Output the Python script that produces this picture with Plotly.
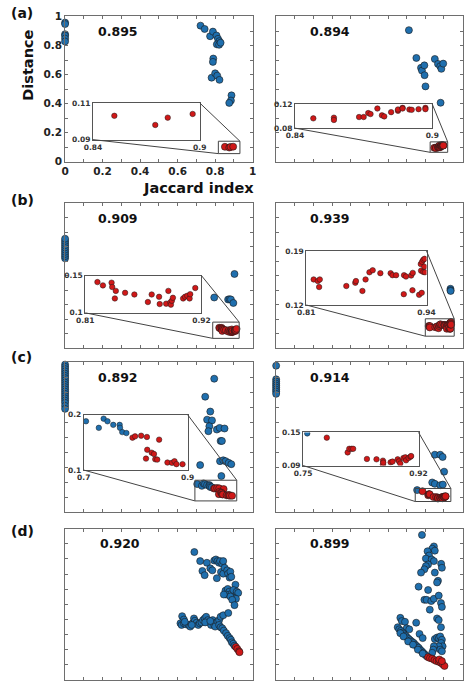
import plotly.graph_objects as go

W, H = 474, 688
BLUE = "#1f6fae"
RED = "#d01818"
EDGE = "#1a1a1a"
FRAME = "#6e6e6e"
FONT = "DejaVu Sans"

# ---------------- data (Jaccard index, Distance) ----------------
# (a) left
a1_blue_x = [0, 0, 0, 0, 0, 0, 0.722, 0.744, 0.773, 0.788, 0.807, 0.815, 0.822, 0.809, 0.821, 0.829,
             0.790, 0.788, 0.781, 0.800, 0.811, 0.823, 0.887, 0.884, 0.875]
a1_blue_y = [0.96, 0.95, 0.88, 0.87, 0.85, 0.83, 0.939, 0.916, 0.866, 0.898, 0.871, 0.848, 0.832, 0.810,
             0.807, 0.821, 0.712, 0.689, 0.580, 0.610, 0.594, 0.565, 0.458, 0.422, 0.406]
a1_zoom_blue_x = []
a1_zoom_blue_y = []
a1_red_x = [0.852, 0.875, 0.882, 0.896]
a1_red_y = [0.103, 0.098, 0.102, 0.104]

# (a) right
a2_blue_x = [0.712, 0.752, 0.851, 0.777, 0.782, 0.795, 0.868, 0.880, 0.886, 0.896, 0.796, 0.801, 0.882]
a2_blue_y = [0.908, 0.716, 0.709, 0.648, 0.629, 0.665, 0.675, 0.659, 0.641, 0.677, 0.597, 0.520, 0.407]
a2_zoom_blue_x = []
a2_zoom_blue_y = []
a2_red_x = [0.848, 0.857, 0.857, 0.868, 0.870, 0.872, 0.873, 0.876, 0.878, 0.879, 0.882, 0.885, 0.885,
            0.887, 0.887, 0.890, 0.891, 0.894, 0.897, 0.897]
a2_red_y = [0.0964, 0.0975, 0.0937, 0.0986, 0.0986, 0.1052, 0.1036, 0.1129, 0.1014, 0.0997, 0.1068,
            0.1090, 0.1112, 0.1140, 0.1129, 0.1112, 0.1107, 0.1118, 0.1140, 0.1118]

# (b) left
b1_blue_x = [0, 0, 0, 0, 0, 0, 0, 0, 0, 0, 0.903, 0.795, 0.869, 0.877, 0.884, 0.897]
b1_blue_y = [0.62, 0.635, 0.65, 0.665, 0.68, 0.695, 0.71, 0.725, 0.74, 0.755,
             0.512, 0.350, 0.336, 0.338, 0.336, 0.312]
b1_zoom_blue_x = []
b1_zoom_blue_y = []
b1_red_x = [0.8215, 0.8267, 0.8349, 0.8355, 0.8389, 0.8380, 0.8477, 0.8565, 0.8693, 0.8729, 0.8799,
            0.8805, 0.8866, 0.8887, 0.8905, 0.8911, 0.8920, 0.8930, 0.9027, 0.9045, 0.9066, 0.9088,
            0.9094, 0.9142]
b1_red_y = [0.1412, 0.1368, 0.1404, 0.1346, 0.1294, 0.1193, 0.1268, 0.1246, 0.1145, 0.1246, 0.1215,
            0.1118, 0.1123, 0.1294, 0.1140, 0.1110, 0.1162, 0.1202, 0.1193, 0.1215, 0.1228, 0.1193,
            0.1250, 0.1333]

# (b) right
b2_blue_x = [0.935, 0.935, 0.936]
b2_blue_y = [0.410, 0.400, 0.395]
b2_zoom_blue_x = []
b2_zoom_blue_y = []
b2_red_x = [0.8180, 0.8225, 0.8246, 0.8239, 0.8533, 0.8630, 0.8637, 0.8707, 0.8741, 0.8783, 0.8818,
            0.8901, 0.9012, 0.9032, 0.9071, 0.9157, 0.9178, 0.9154, 0.9234, 0.9251, 0.9248, 0.9320,
            0.9348, 0.9341, 0.9365, 0.9338, 0.9352, 0.9365, 0.9379, 0.9376, 0.9383]
b2_red_y = [0.1531, 0.1510, 0.1531, 0.1433, 0.1446, 0.1488, 0.1510, 0.1382, 0.1531, 0.1624, 0.1650,
            0.1612, 0.1612, 0.1586, 0.1586, 0.1586, 0.1569, 0.1340, 0.1582, 0.1616, 0.1391, 0.1332,
            0.1357, 0.1645, 0.1628, 0.1730, 0.1760, 0.1785, 0.1798, 0.1696, 0.1624]

# (c) left
c1_blue_x = [0] * 20 + [0.795, 0.747, 0.774, 0.757, 0.783, 0.769, 0.764, 0.809, 0.824, 0.850, 0.829,
                        0.836, 0.720, 0.826, 0.843, 0.856, 0.872, 0.886, 0.833]
c1_blue_y = [0.985, 0.97, 0.955, 0.94, 0.925, 0.91, 0.895, 0.88, 0.865, 0.85, 0.835, 0.82, 0.805,
             0.79, 0.775, 0.76, 0.745, 0.73, 0.71, 0.69,
             0.891, 0.771, 0.672, 0.618, 0.613, 0.574, 0.541, 0.552, 0.563, 0.559, 0.476, 0.476,
             0.315, 0.341, 0.347, 0.341, 0.330, 0.321, 0.242]
c1_zoom_blue_x = [0.7043, 0.7290, 0.7383, 0.7457, 0.7568, 0.7691, 0.7698, 0.7741, 0.7821]
c1_zoom_blue_y = [0.1882, 0.1763, 0.1929, 0.1882, 0.1817, 0.1817, 0.1763, 0.1686, 0.1669]
c1_red_x = [0.7938, 0.7988, 0.8105, 0.8216, 0.8451, 0.8222, 0.8198, 0.8309, 0.8352, 0.8377, 0.8414,
            0.8611, 0.8698, 0.8747, 0.8784, 0.8901]
c1_red_y = [0.1586, 0.1609, 0.1621, 0.1598, 0.1550, 0.1367, 0.1207, 0.1314, 0.1290, 0.1195, 0.1189,
            0.1136, 0.1130, 0.1160, 0.1107, 0.1107]

# (c) right
c2_blue_x = [0] * 9 + [0.851, 0.880, 0.893, 0.901, 0.837, 0.851, 0.880, 0.894]
c2_blue_y = [0.978, 0.887, 0.872, 0.858, 0.845, 0.832, 0.818, 0.805, 0.790,
             0.384, 0.384, 0.369, 0.271, 0.199, 0.190, 0.181, 0.185]
c2_zoom_blue_x = [0.7561]
c2_zoom_blue_y = [0.1482]
c2_red_x = [0.7849, 0.8156, 0.8180, 0.8213, 0.8237, 0.8440, 0.8581, 0.8676, 0.8676, 0.8681, 0.8789,
            0.8817, 0.8893, 0.8912, 0.8931, 0.8978, 0.9006, 0.9016, 0.9054, 0.9082, 0.9091]
c2_red_y = [0.1405, 0.1138, 0.1203, 0.1203, 0.1203, 0.1019, 0.1013, 0.0989, 0.0918, 0.0953, 0.0959,
            0.0971, 0.1013, 0.0977, 0.0936, 0.1037, 0.1049, 0.0995, 0.1037, 0.1061, 0.1072]

# (d) left
d1_blue_x = [0.689, 0.720, 0.756, 0.732, 0.744, 0.774, 0.785, 0.795, 0.804, 0.812, 0.821, 0.826, 0.838,
             0.843, 0.809, 0.831, 0.843, 0.850, 0.864, 0.869, 0.881, 0.877, 0.886, 0.908, 0.855, 0.867,
             0.875, 0.858, 0.886, 0.897, 0.915, 0.923, 0.901, 0.911, 0.881, 0.891, 0.903, 0.846,
             0.624, 0.633, 0.615, 0.621, 0.633, 0.645, 0.658, 0.667, 0.679, 0.687, 0.692, 0.701, 0.710,
             0.718, 0.727, 0.735, 0.744, 0.752, 0.761, 0.769, 0.778, 0.787, 0.795, 0.804, 0.812, 0.821,
             0.829, 0.843, 0.870, 0.638, 0.675, 0.747, 0.774, 0.800,
             0.821, 0.829, 0.838, 0.846, 0.858, 0.867, 0.877, 0.884, 0.889, 0.897, 0.903]
d1_blue_y = [0.846, 0.786, 0.775, 0.721, 0.693, 0.738, 0.725, 0.790, 0.797, 0.786, 0.775, 0.786, 0.768,
             0.786, 0.673, 0.714, 0.703, 0.742, 0.725, 0.703, 0.716, 0.677, 0.682, 0.630, 0.591, 0.602,
             0.584, 0.565, 0.569, 0.595, 0.584, 0.576, 0.543, 0.537, 0.552, 0.530, 0.495, 0.565,
             0.422, 0.400, 0.375, 0.364, 0.375, 0.368, 0.364, 0.353, 0.375, 0.407, 0.392, 0.379, 0.364,
             0.375, 0.381, 0.396, 0.407, 0.418, 0.396, 0.381, 0.364, 0.396, 0.364, 0.379, 0.385, 0.396,
             0.418, 0.428, 0.443, 0.385, 0.364, 0.381, 0.390, 0.353,
             0.364, 0.349, 0.342, 0.327, 0.310, 0.292, 0.277, 0.266, 0.249, 0.240, 0.227]
d1_zoom_blue_x = []
d1_zoom_blue_y = []
d1_red_x = [0.910, 0.918, 0.927, 0.930]
d1_red_y = [0.219, 0.206, 0.190, 0.184]

# (d) right
d2_blue_x = [0.782, 0.846, 0.837, 0.851, 0.812, 0.820, 0.803, 0.834, 0.846, 0.815, 0.803, 0.795, 0.777,
             0.851, 0.885, 0.889, 0.868, 0.863, 0.764, 0.815, 0.795, 0.807, 0.832, 0.846, 0.824, 0.872,
             0.884, 0.889, 0.863, 0.872, 0.884, 0.751, 0.666, 0.674, 0.691, 0.700, 0.714, 0.769, 0.786,
             0.851, 0.863, 0.872, 0.880, 0.889, 0.885, 0.893, 0.872, 0.846, 0.843, 0.837, 0.880, 0.889,
             0.652, 0.660, 0.669, 0.678, 0.686, 0.695, 0.703, 0.712, 0.720, 0.729, 0.738, 0.746, 0.755,
             0.764, 0.772, 0.781, 0.789, 0.798, 0.807, 0.666, 0.683, 0.708, 0.734, 0.760, 0.786]
d2_blue_y = [0.959, 0.883, 0.868, 0.855, 0.851, 0.823, 0.803, 0.797, 0.786, 0.764, 0.753, 0.732, 0.710,
             0.710, 0.768, 0.742, 0.656, 0.645, 0.617, 0.595, 0.530, 0.530, 0.522, 0.537, 0.465, 0.558,
             0.509, 0.483, 0.407, 0.396, 0.349, 0.379, 0.411, 0.390, 0.385, 0.342, 0.335, 0.305, 0.277,
             0.271, 0.281, 0.277, 0.288, 0.266, 0.245, 0.223, 0.223, 0.223, 0.201, 0.180, 0.201, 0.190,
             0.349, 0.335, 0.325, 0.314, 0.303, 0.292, 0.281, 0.271, 0.262, 0.253, 0.245, 0.234, 0.223,
             0.214, 0.201, 0.190, 0.180, 0.169, 0.158, 0.310, 0.288, 0.255, 0.234, 0.201, 0.175]
d2_zoom_blue_x = []
d2_zoom_blue_y = []
d2_red_x = [0.815, 0.825, 0.837, 0.849, 0.860, 0.872, 0.882, 0.893, 0.903, 0.875, 0.889]
d2_red_y = [0.151, 0.145, 0.141, 0.132, 0.125, 0.121, 0.115, 0.104, 0.093, 0.136, 0.125]

scores = ["0.895", "0.894", "0.909", "0.939", "0.892", "0.914", "0.920", "0.899"]
panel_letters = ["(a)", "(b)", "(c)", "(d)"]

# inset axis ranges (tick labels) : x range, y range
inset_x_ranges = [[0.84, 0.9], [0.84, 0.9], [0.81, 0.92], [0.81, 0.94], [0.7, 0.9], [0.75, 0.92]]
inset_y_ranges = [[0.09, 0.11], [0.08, 0.12], [0.1, 0.15], [0.12, 0.19], [0.1, 0.2], [0.09, 0.15]]
# zoom rectangle drawn in the main panel (data units)
zoom_box_x = [[0.817, 0.932], [0.826, 0.920], [0.787, 0.928], [0.800, 0.955], [0.692, 0.915], [0.746, 0.937]]
zoom_box_y = [[0.056, 0.1415], [0.065, 0.137], [0.068, 0.180], [0.083, 0.203], [0.076, 0.214], [0.072, 0.159]]

panels = [
    (a1_blue_x, a1_blue_y, a1_zoom_blue_x, a1_zoom_blue_y, a1_red_x, a1_red_y),
    (a2_blue_x, a2_blue_y, a2_zoom_blue_x, a2_zoom_blue_y, a2_red_x, a2_red_y),
    (b1_blue_x, b1_blue_y, b1_zoom_blue_x, b1_zoom_blue_y, b1_red_x, b1_red_y),
    (b2_blue_x, b2_blue_y, b2_zoom_blue_x, b2_zoom_blue_y, b2_red_x, b2_red_y),
    (c1_blue_x, c1_blue_y, c1_zoom_blue_x, c1_zoom_blue_y, c1_red_x, c1_red_y),
    (c2_blue_x, c2_blue_y, c2_zoom_blue_x, c2_zoom_blue_y, c2_red_x, c2_red_y),
    (d1_blue_x, d1_blue_y, d1_zoom_blue_x, d1_zoom_blue_y, d1_red_x, d1_red_y),
    (d2_blue_x, d2_blue_y, d2_zoom_blue_x, d2_zoom_blue_y, d2_red_x, d2_red_y),
]

# ---------------- layout geometry (pixels) ----------------
COLS = [(58.3, 253.3), (277.7, 471.5)]
ROWS = [(10.5, 158.5), (200.7, 348.3), (362.7, 515.3), (532.0, 686.0)]
INSET_PX = [(87.3, 98.7, 198.3, 136.0), (297.3, 100.0, 440.0, 124.3),
            (79.3, 274.3, 200.0, 312.3), (309.0, 249.3, 434.0, 304.3),
            (77.7, 416.0, 185.7, 472.3), (305.7, 434.0, 425.7, 467.7)]


def pxx(p):
    return p / W


def pxy(p):
    return 1 - p / H


def name(k, ax):
    return ax if k == 1 else f"{ax}{k}"


fig = go.Figure()
layout = dict(width=W, height=H, margin=dict(l=0, r=0, t=0, b=0, pad=0),
              paper_bgcolor="white", plot_bgcolor="white", showlegend=False)

ticks01 = [round(i * 0.1, 1) for i in range(11)]
ticktext01 = ["0" if v == 0 else ("1" if v == 1 else (f"{v:g}" if i % 2 == 0 else ""))
              for i, v in enumerate(ticks01)]

main_dom = []
shapes = []
annotations = []

for i, (bx, by, zbx, zby, rx, ry) in enumerate(panels):
    k = i + 1
    row, col = divmod(i, 2)
    x0, x1 = COLS[col]
    t, b = ROWS[row]
    xd = [pxx(x0), pxx(x1)]
    yd = [pxy(b), pxy(t)]
    yr = [0, 1.0034] if row == 0 else [0, 1]
    main_dom.append((xd, yd, [0, 1], yr))
    labels = (i == 0)
    common = dict(showline=True, linecolor=FRAME, linewidth=1, mirror="ticks", ticks="inside",
                  ticklen=3, tickwidth=1, tickcolor=FRAME, showgrid=False, zeroline=False,
                  tickvals=ticks01, ticktext=ticktext01, showticklabels=labels,
                  tickfont=dict(family=FONT, size=10.5, color="#222", weight="bold"))
    layout[name(k, "xaxis")] = dict(domain=xd, range=[0, 1], anchor=name(k, "y"), **common)
    layout[name(k, "yaxis")] = dict(domain=yd, range=yr, anchor=name(k, "x"), **common)
    fig.add_trace(go.Scatter(x=bx + zbx, y=by + zby, mode="markers", cliponaxis=False,
                             xaxis=name(k, "x"), yaxis=name(k, "y"),
                             marker=dict(size=7, color=BLUE, line=dict(color=EDGE, width=0.6))))
    fig.add_trace(go.Scatter(x=rx, y=ry, mode="markers", cliponaxis=False,
                             xaxis=name(k, "x"), yaxis=name(k, "y"),
                             marker=dict(size=7, color=RED, line=dict(color=EDGE, width=0.6))))
    # score text
    sx = 113 if col == 0 else 333.5
    sy = [26, 216, 378, 547.5][row]
    annotations.append(dict(x=pxx(sx + (2 if row == 3 and col == 0 else 0)), y=pxy(sy),
                            xref="paper", yref="paper", text=f"<b>{scores[i]}</b>", showarrow=False,
                            font=dict(family=FONT, size=12.5, color="#111"),
                            xanchor="center", yanchor="middle"))

# insets
for j in range(6):
    k = 9 + j
    mk = j + 1
    bx, by, zbx, zby, rx, ry = panels[j]
    xl, yt, xr, yb = INSET_PX[j]
    xd = [pxx(xl), pxx(xr)]
    yd = [pxy(yb), pxy(yt)]
    xr_ = inset_x_ranges[j]
    yr_ = inset_y_ranges[j]
    common = dict(showline=True, linecolor="#555", linewidth=1, mirror=True, ticks="",
                  showgrid=False, zeroline=False,
                  tickfont=dict(family=FONT, size=7.5, color="#333", weight="bold"))
    layout[name(k, "xaxis")] = dict(domain=xd, range=xr_, anchor=name(k, "y"),
                                    tickvals=xr_, ticktext=[f"{v:g}" for v in xr_], **common)
    layout[name(k, "yaxis")] = dict(domain=yd, range=yr_, anchor=name(k, "x"),
                                    tickvals=yr_, ticktext=[f"{v:g}" for v in yr_], **common)
    fig.add_trace(go.Scatter(x=zbx, y=zby, mode="markers", cliponaxis=True,
                             xaxis=name(k, "x"), yaxis=name(k, "y"),
                             marker=dict(size=5.5, color=BLUE, line=dict(color=EDGE, width=0.5))))
    fig.add_trace(go.Scatter(x=rx, y=ry, mode="markers", cliponaxis=True,
                             xaxis=name(k, "x"), yaxis=name(k, "y"),
                             marker=dict(size=5.5, color=RED, line=dict(color=EDGE, width=0.5))))
    # zoom rectangle in main panel
    zx, zy = zoom_box_x[j], zoom_box_y[j]
    shapes.append(dict(type="rect", xref=name(mk, "x"), yref=name(mk, "y"),
                       x0=zx[0], x1=zx[1], y0=zy[0], y1=zy[1],
                       line=dict(color="#444", width=1)))
    mxd, myd, mxr, myr = main_dom[j]

    def to_paper(xv, yv):
        px_ = mxd[0] + (xv - mxr[0]) / (mxr[1] - mxr[0]) * (mxd[1] - mxd[0])
        py_ = myd[0] + (yv - myr[0]) / (myr[1] - myr[0]) * (myd[1] - myd[0])
        return px_, py_

    bl = to_paper(zx[0], zy[0])
    tr = to_paper(zx[1], zy[1])
    shapes.append(dict(type="line", xref="paper", yref="paper", x0=xd[0], y0=yd[0],
                       x1=bl[0], y1=bl[1], line=dict(color="#444", width=1)))
    shapes.append(dict(type="line", xref="paper", yref="paper", x0=xd[1], y0=yd[1],
                       x1=tr[0], y1=tr[1], line=dict(color="#444", width=1)))

# panel letters
for r, lab in enumerate(panel_letters):
    ly = [7, 197.5, 357.5, 534][r]
    annotations.append(dict(x=0, y=pxy(ly), xref="paper", yref="paper", text=f"<b>{lab}</b>",
                            showarrow=False, xanchor="left", yanchor="middle",
                            font=dict(family=FONT, size=14, color="#111")))

# axis titles
annotations.append(dict(x=pxx(197), y=pxy(185), xref="paper", yref="paper", text="<b>Jaccard index</b>",
                        showarrow=False, xanchor="center", yanchor="middle",
                        font=dict(family=FONT, size=14.5, color="#111")))
annotations.append(dict(x=pxx(19.5), y=pxy(60), xref="paper", yref="paper", text="<b>Distance</b>",
                        showarrow=False, xanchor="center", yanchor="middle", textangle=-90,
                        font=dict(family=FONT, size=14.5, color="#111")))

layout["shapes"] = shapes
layout["annotations"] = annotations
fig.update_layout(**layout)
fig.write_html("out.html")
